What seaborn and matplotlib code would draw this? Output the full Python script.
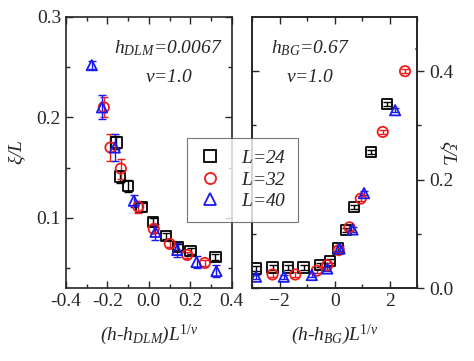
import numpy as np
import pandas as pd
import seaborn as sns
import matplotlib
matplotlib.use('Agg')
import matplotlib.pyplot as plt
from matplotlib.lines import Line2D

sns.set_style('ticks')
plt.rcParams['font.family'] = ['Liberation Serif', 'DejaVu Serif']
plt.rcParams['mathtext.fontset'] = 'custom'
plt.rcParams['mathtext.rm'] = 'Liberation Serif'
plt.rcParams['mathtext.it'] = 'Liberation Serif:italic'
plt.rcParams['mathtext.default'] = 'it'

# ---- data: DLM panel (left) ----
dlm_x24 = [-0.156, -0.140, -0.100, -0.035, 0.021, 0.082, 0.141, 0.201, 0.321]
dlm_y24 = [0.175, 0.141, 0.132, 0.111, 0.096, 0.082, 0.071, 0.067, 0.061]
dlm_e24 = [0.006, 0.006, 0.006, 0.004, 0.004, 0.003, 0.003, 0.003, 0.003]
dlm_x32 = [-0.217, -0.185, -0.135, -0.051, 0.024, 0.101, 0.185, 0.270]
dlm_y32 = [0.210, 0.170, 0.149, 0.111, 0.089, 0.074, 0.063, 0.055]
dlm_e32 = [0.010, 0.013, 0.010, 0.006, 0.004, 0.003, 0.003, 0.003]
dlm_x40 = [-0.275, -0.226, -0.164, -0.072, 0.032, 0.137, 0.230, 0.326]
dlm_y40 = [0.252, 0.210, 0.170, 0.117, 0.086, 0.068, 0.056, 0.047]
dlm_e40 = [0.004, 0.012, 0.013, 0.006, 0.008, 0.007, 0.006, 0.006]

# ---- data: BG panel (right) ----
bg_x24 = [-2.86, -2.26, -1.70, -1.13, -0.54, -0.18, 0.12, 0.42, 0.71, 1.32, 1.90]
bg_y24 = [0.036, 0.038, 0.038, 0.038, 0.042, 0.050, 0.073, 0.107, 0.150, 0.251, 0.339]
bg_x32 = [-2.26, -1.43, -0.65, -0.27, 0.15, 0.54, 0.95, 1.75, 2.56]
bg_y32 = [0.025, 0.025, 0.032, 0.042, 0.070, 0.112, 0.165, 0.288, 0.400]
bg_x40 = [-2.86, -1.85, -0.83, -0.27, 0.18, 0.65, 1.07, 2.20, 3.15]
bg_y40 = [0.021, 0.021, 0.024, 0.036, 0.073, 0.108, 0.175, 0.328, 0.450]
bg_err = 0.004

sizes = [24, 32, 40]
colors = {24: 'black', 32: '#ee1c1c', 40: '#1a1aee'}
markers = {24: 's', 32: 'o', 40: '^'}

dlm = pd.concat([
    pd.DataFrame({'x': dlm_x24, 'y': dlm_y24, 'err': dlm_e24, 'L': 24}),
    pd.DataFrame({'x': dlm_x32, 'y': dlm_y32, 'err': dlm_e32, 'L': 32}),
    pd.DataFrame({'x': dlm_x40, 'y': dlm_y40, 'err': dlm_e40, 'L': 40}),
], ignore_index=True)
bg = pd.concat([
    pd.DataFrame({'x': bg_x24, 'y': bg_y24, 'L': 24}),
    pd.DataFrame({'x': bg_x32, 'y': bg_y32, 'L': 32}),
    pd.DataFrame({'x': bg_x40, 'y': bg_y40, 'L': 40}),
], ignore_index=True)
bg['err'] = bg_err

FS = 14
fig = plt.figure(figsize=(4.74, 3.61), dpi=100)
ax1 = fig.add_axes([0.139, 0.202, 0.350, 0.751])
ax2 = fig.add_axes([0.532, 0.202, 0.348, 0.751])


def draw(ax, df):
    for L in sizes:
        d = df[df['L'] == L]
        ax.errorbar(d['x'], d['y'], yerr=d['err'], fmt='none', ecolor=colors[L],
                    elinewidth=1.0, capsize=3, capthick=1.0, zorder=2)
    sns.scatterplot(data=df, x='x', y='y', hue='L', style='L', palette=colors,
                    markers=markers, s=55, linewidth=1.3, legend=False, ax=ax, zorder=3)
    coll = ax.collections[-1]
    coll.set_edgecolor(coll.get_facecolor())
    coll.set_facecolor('none')


draw(ax1, dlm)
draw(ax2, bg)

# left panel axes
ax1.set_xlim(-0.4, 0.4)
ax1.set_ylim(0.03, 0.3)
ax1.set_xticks([-0.4, -0.2, 0.0, 0.2, 0.4])
ax1.set_xticklabels(['-0.4', '-0.2', '0.0', '0.2', '0.4'])
ax1.set_xticks([-0.3, -0.1, 0.1, 0.3], minor=True)
ax1.set_yticks([0.1, 0.2, 0.3])
ax1.set_yticks([0.05, 0.15, 0.25], minor=True)
ax1.tick_params(which='both', direction='in', top=True, right=True, labelsize=FS, width=1)
ax1.tick_params(which='major', length=5)
ax1.tick_params(which='minor', length=3)
ax1.set_xlabel(r'(h-h$_{DLM}$)L$^{1/\nu}$', fontsize=FS, style='italic', labelpad=9)
ax1.set_ylabel(r'$\xi$/L', fontsize=FS, style='italic', labelpad=6)
ax1.text(0.62, 0.865, r'h$_{DLM}$=0.0067', transform=ax1.transAxes, ha='center',
         fontsize=FS, style='italic')
ax1.text(0.62, 0.76, r'$\nu$=1.0', transform=ax1.transAxes, ha='center',
         fontsize=FS, style='italic')

# right panel axes
ax2.set_xlim(-3, 3)
ax2.set_ylim(0, 0.5)
ax2.set_xticks([-2, 0, 2])
ax2.set_xticks([-3, -1, 1, 3], minor=True)
ax2.set_yticks([0.0, 0.2, 0.4])
ax2.set_yticks([0.1, 0.3], minor=True)
ax2.tick_params(which='both', direction='in', top=True, labelsize=FS, width=1, labelleft=False)
ax2.tick_params(which='major', length=5)
ax2.tick_params(which='minor', length=3)
ax2.set_xlabel(r'(h-h$_{BG}$)L$^{1/\nu}$', fontsize=FS, style='italic', labelpad=9)
ax2.set_ylabel('')
ax2.text(0.35, 0.865, r'h$_{BG}$=0.67', transform=ax2.transAxes, ha='center',
         fontsize=FS, style='italic')
ax2.text(0.35, 0.76, r'$\nu$=1.0', transform=ax2.transAxes, ha='center',
         fontsize=FS, style='italic')

axr = ax2.twinx()
axr.set_ylim(0, 0.5)
axr.set_yticks([0.0, 0.2, 0.4])
axr.set_yticklabels(['0.0', '0.2', '0.4'])
axr.set_yticks([0.1, 0.3], minor=True)
axr.tick_params(which='both', direction='out', labelsize=FS, width=1)
axr.tick_params(which='major', length=5)
axr.tick_params(which='minor', length=3)
axr.set_ylabel(r'$\xi$/L', fontsize=FS, style='italic', rotation=270, labelpad=4)

for ax in (ax1, ax2, axr):
    for sp in ax.spines.values():
        sp.set_linewidth(1.2)
        sp.set_visible(True)

handles = [Line2D([], [], linestyle='none', marker=markers[L], markersize=8,
                  markerfacecolor='none', markeredgecolor=colors[L], markeredgewidth=1.3,
                  label='$L$=%d' % L) for L in sizes]
leg = fig.legend(handles=handles, loc='upper left', bbox_to_anchor=(0.394, 0.618),
                 borderaxespad=0, frameon=True, fancybox=False, handlelength=1.2,
                 handletextpad=1.0, borderpad=0.6, labelspacing=0.2,
                 prop={'style': 'italic', 'size': FS})
leg.get_frame().set_edgecolor('#555555')
leg.get_frame().set_linewidth(0.8)

fig.savefig('out.png', dpi=100)
